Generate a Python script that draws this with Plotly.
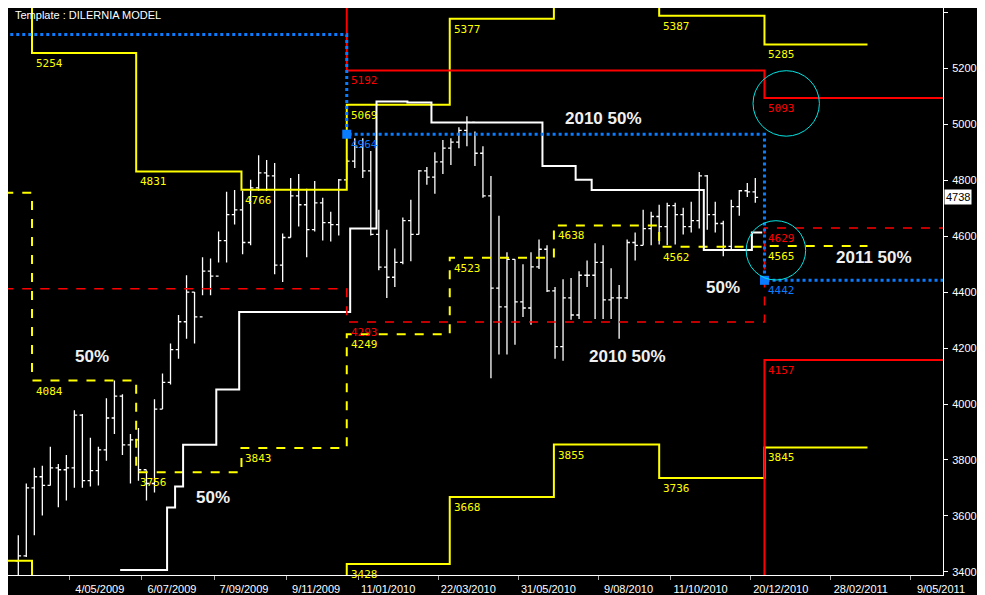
import pandas as pd
import plotly.graph_objects as go

# ---------------- data ----------------
bar_start = "2009-03-20"
highs = [3531,3716,3772,3779,3847,3786,3818,3978,3964,3879,3847,4021,4084,4035,3893,3914,3762,4017,4109,4216,
         4318,4460,4400,4524,4520,4616,4758,4765,4762,4801,4889,4872,4861,4609,4808,4822,4769,4797,4737,4687,
         4804,4875,4950,4950,4904,4694,4623,4556,4666,4730,4836,4847,4900,4943,4950,4989,5028,4974,4921,4815,
         4673,4542,4517,4499,4542,4588,4567,4418,4446,4450,4474,4513,4574,4567,4485,4425,4588,4613,4694,4687,
         4712,4719,4719,4701,4723,4829,4818,4723,4655,4730,4765,4790,4808]
lows = [3389,3453,3531,3602,3709,3631,3655,3701,3701,3705,3709,3797,3893,3818,3716,3726,3655,3684,3982,4070,
        4162,4233,4216,4389,4389,4506,4506,4641,4535,4567,4762,4762,4464,4436,4595,4634,4524,4616,4584,4581,
        4602,4801,4843,4808,4602,4478,4379,4418,4499,4510,4606,4783,4751,4822,4854,4914,4921,4850,4737,4092,
        4177,4177,4212,4311,4283,4482,4400,4162,4155,4301,4304,4418,4304,4304,4304,4233,4375,4513,4567,4567,
        4570,4567,4570,4606,4613,4627,4623,4613,4528,4549,4673,4740,4719]
closes = [3457,3700,3740,3709,3772,3765,3772,3960,3726,3762,3836,3950,4028,3854,3872,3765,3716,3982,4077,4194,
          4294,4400,4311,4475,4457,4584,4677,4694,4577,4772,4826,4815,4496,4595,4744,4712,4623,4719,4648,4641,
          4801,4868,4918,4833,4606,4489,4453,4506,4655,4606,4833,4811,4865,4914,4936,4978,5006,4896,4744,4414,
          4347,4517,4365,4343,4490,4553,4404,4205,4379,4318,4460,4460,4506,4372,4379,4379,4577,4567,4627,4670,
          4634,4709,4677,4634,4655,4815,4677,4645,4563,4705,4762,4758,4738]
opens = [3440] + closes[:-1]

quarters = ["2009-02-20","2009-04-01","2009-07-01","2009-10-01","2010-01-01","2010-04-01",
            "2010-07-01","2010-10-01","2011-01-01","2011-04-01"]
upper = [5600,5254,4831,4766,5069,5377,5421,5387,5285]
lower = [3440,3300,3300,3300,3428,3668,3855,3736,3845]
middle = [4755,4084,3756,3843,4249,4523,4638,4562,4565]

red_dates = ["2010-01-01","2010-01-01","2011-01-01","2011-01-01","2011-06-10"]
red_vals = [5500,5192,5192,5093,5093]
red2_dates = ["2011-01-01","2011-01-01","2011-06-10"]
red2_vals = [3300,4157,4157]
reddot_dates = ["2009-02-20","2010-01-01","2011-01-01","2011-06-10"]
reddot_vals = [4412,4293,4629,4629]
blue_dates = ["2009-02-20","2010-01-01","2011-01-01","2011-06-10"]
blue_vals = [5320,4964,4442,4442]

white_dates = ["2009-06-17","2009-07-28","2009-08-04","2009-08-11","2009-09-09","2009-09-29","2010-01-04",
               "2010-01-27","2010-02-23","2010-03-16","2010-06-21","2010-07-20","2010-08-03","2010-11-09",
               "2010-12-21","2010-12-30"]
white_vals = [3407,3630,3705,3854,4052,4329,4627,5081,5077,5006,4850,4801,4765,4550,4613,4613]

tick_dates = ["2009-03-02","2009-05-04","2009-07-06","2009-09-07","2009-11-09","2010-01-11","2010-03-22",
              "2010-05-31","2010-08-09","2010-10-11","2010-12-20","2011-02-28","2011-05-09"]
tick_text = ["2/03/2009","4/05/2009","6/07/2009","7/09/2009","9/11/2009","11/01/2010","22/03/2010",
             "31/05/2010","9/08/2010","11/10/2010","20/12/2010","28/02/2011","9/05/2011"]
y_ticks = list(range(3400, 5401, 200))

notes = [("2010 50%","2010-08-13",5021),("50%","2009-05-23",4170),("50%","2009-09-06",3666),
         ("2010 50%","2010-09-03",4170),("50%","2010-11-26",4418),("2011 50%","2011-04-07",4524)]
last_price = 4738

# ---------------- figure ----------------
dates = pd.date_range(bar_start, periods=len(closes), freq="7D")
fig = go.Figure()

def step(x, y, color, dash="solid", width=2):
    fig.add_trace(go.Scatter(x=x, y=y, mode="lines", line=dict(color=color, dash=dash, width=width, shape="hv"),
                             hoverinfo="skip", showlegend=False))

step(quarters, upper + [upper[-1]], "#ffff00", width=2)
step(quarters, lower + [lower[-1]], "#ffff00", width=2)
step(quarters, middle + [middle[-1]], "#ffff00", dash="dash", width=2)
fig.add_trace(go.Scatter(x=[quarters[8], quarters[8]], y=[lower[7], lower[8]], mode="lines",
                         line=dict(color="#00ff00", width=2), showlegend=False, hoverinfo="skip"))
step(white_dates, white_vals, "#ffffff", width=2)
fig.add_trace(go.Scatter(x=red_dates, y=red_vals, mode="lines", line=dict(color="#ff0000", width=2),
                         showlegend=False, hoverinfo="skip"))
fig.add_trace(go.Scatter(x=red2_dates, y=red2_vals, mode="lines", line=dict(color="#ff0000", width=2),
                         showlegend=False, hoverinfo="skip"))
step(reddot_dates, reddot_vals, "#ff0000", dash="dash", width=1.5)
step(blue_dates, blue_vals, "#0a7cff", dash="dot", width=3)
fig.add_trace(go.Scatter(x=[blue_dates[1], blue_dates[2]], y=[blue_vals[1], blue_vals[2]], mode="markers",
                         marker=dict(symbol="square", size=9, color="#0a7cff"), showlegend=False, hoverinfo="skip"))

fig.add_trace(go.Ohlc(x=dates, open=opens, high=highs, low=lows, close=closes, tickwidth=0.35,
                      increasing=dict(line=dict(color="white", width=1.3)),
                      decreasing=dict(line=dict(color="white", width=1.3)), showlegend=False, hoverinfo="skip"))

lab_font = dict(family="DejaVu Sans Mono", size=11)
def lab(x, y, text, color):
    fig.add_annotation(x=x, y=y, text=text, showarrow=False, xanchor="left", yanchor="top",
                       xshift=2, yshift=-2, font=dict(color=color, **lab_font))
for i in range(1, 9):
    if upper[i] < 5450:
        lab(quarters[i], upper[i], str(upper[i]), "#ffff00")
    if lower[i] > 3400:
        lab(quarters[i], lower[i], str(lower[i]), "#ffff00")
    lab(quarters[i], middle[i], str(middle[i]), "#ffff00")
lab("2010-01-01", 5192, "5192", "#ff0000")
lab("2010-01-01", 4293, "4293", "#ff0000")
lab("2011-01-01", 5093, "5093", "#ff0000")
lab("2011-01-01", 4157, "4157", "#ff0000")
lab("2011-01-01", 4629, "4629", "#ff0000")
lab("2010-01-01", 4964, "4964", "#0a7cff")
lab("2011-01-01", 4442, "4442", "#0a7cff")

for t, x, y in notes:
    fig.add_annotation(x=x, y=y, text=f"<b>{t}</b>", showarrow=False,
                       font=dict(family="Liberation Sans", size=17, color="#f0f0f0"))

fig.add_shape(type="circle", x0="2010-12-22", x1="2011-02-18", y0=4957, y1=5191,
              line=dict(color="#00e5e5", width=1))
fig.add_shape(type="circle", x0="2010-12-16", x1="2011-02-06", y0=4443, y1=4655,
              line=dict(color="#00e5e5", width=1))

fig.add_annotation(xref="paper", yref="paper", x=0.006, y=1.0, xanchor="left", yanchor="top",
                   text="Template : DILERNIA MODEL", showarrow=False, borderpad=0,
                   font=dict(family="Liberation Sans", size=11, color="white"))
fig.add_annotation(xref="paper", x=1.0, y=last_price, xanchor="left", xshift=1, text=str(last_price),
                   showarrow=False, bgcolor="white", borderpad=1,
                   font=dict(family="Liberation Sans", size=11, color="black"))

fig.update_layout(
    width=977, height=587, margin=dict(l=0, r=42, t=0, b=20),
    paper_bgcolor="black", plot_bgcolor="black",
    xaxis=dict(type="date", range=["2009-03-11", "2011-06-06"], rangeslider=dict(visible=False),
               tickvals=tick_dates, ticktext=tick_text, ticks="outside", ticklen=4, tickcolor="#aaaaaa",
               showgrid=False, zeroline=False, showline=True, linecolor="white", linewidth=1,
               ticklabelshift=30, ticklabelstandoff=0,
               tickfont=dict(family="Liberation Sans", size=11, color="white")),
    yaxis=dict(side="right", range=[3389, 5415], tickvals=y_ticks, ticks="outside", ticklen=4,
               tickcolor="white", showgrid=False, zeroline=False, showline=True, linecolor="white",
               ticklabelstandoff=2,
               tickfont=dict(family="Liberation Sans", size=11, color="white")),
)
fig.write_html("out.html")
